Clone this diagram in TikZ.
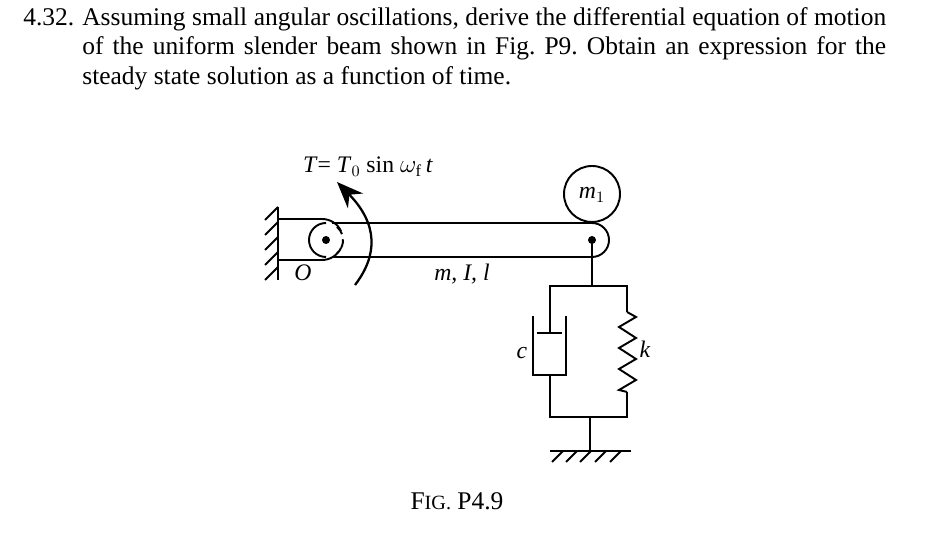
\documentclass[tikz,border=0pt]{standalone}
\usepackage{fontspec}
\setmainfont{Liberation Serif}
\usetikzlibrary{arrows.meta}
\frenchspacing

\tikzset{
  member/.style={line width=1.1pt},
  probtext/.style={anchor=base west,inner sep=0pt,font=\fontsize{14.5}{17}\selectfont},
  partlabel/.style={inner sep=0pt,font=\fontsize{13.5}{16}\selectfont\itshape}
}

\begin{document}
\begin{tikzpicture}[x=0.02cm,y=0.02cm]
\useasboundingbox (0,0) rectangle (933,546);
% Problem statement
\node[probtext] (num) at (23,520) {4.32.};
\node[probtext] (lineone) at (82,520) {\makebox[16.08cm][s]{Assuming small angular oscillations, derive the differential equation of motion}};
\node[probtext] (linetwo) at (82,491) {\makebox[16.08cm][s]{of the uniform slender beam shown in Fig. P9. Obtain an expression for the}};
\node[probtext] (linethree) at (82,461) {steady state solution as a function of time.};
% Wall and bracket
\draw[member] (278,339) -- (278,266);
\foreach \y in {339,324,309,294,279}
  \draw[member] (278,\y) -- ++(-13,-13);
\draw[member] (278,327) -- (322,327) arc[start angle=90,end angle=25,radius=21];
\draw[member] (278,286) -- (322,286) arc[start angle=-90,end angle=-25,radius=21];
% Pin
\draw[member] (326,323) arc[start angle=90,end angle=270,radius=17];
\draw[member,dash pattern=on 5pt off 3pt] (337,319) arc[start angle=50,end angle=-50,radius=17];
\fill (326,306) circle (4);
% Beam
\draw[member] (332,323) -- (592,323) arc[start angle=90,end angle=-90,radius=17] -- (332,289);
\fill (592,306) circle (4);
\node[draw,member,circle,minimum size=1.12cm,inner sep=0pt] (mass) at (592,352) {};
\node[inner sep=0pt,font=\fontsize{13.5}{16}\selectfont] (masslabel) at (592,351) {\textit{m}$_1$};
% Applied torque
\draw[line width=1.3pt,-{Stealth[length=15pt,width=12pt]}] (355,261) .. controls (378,291) and (378,322) .. (337,364);
\node[inner sep=0pt,font=\fontsize{13.5}{16}\selectfont] (torque) at (368,379) {\textit{T}= \textit{T}$_0$ sin $\omega_{\mathrm{f}}$\,\textit{t}};
\node[partlabel] (pivot) at (303,273) {O};
\node[partlabel] (beamlabel) at (462,272) {m, I, l};
% Damper and spring
\draw[member] (592,306) -- (592,260);
\draw[member] (550,213) -- (550,260) -- (627,260) -- (627,234);
\draw[member] (537,213) -- (562,213);
\draw[member] (533,230) -- (533,171) -- (566,171) -- (566,230);
\draw[member] (550,171) -- (550,129) -- (627,129) -- (627,154);
\draw[member] (627,234) -- (636,229) -- (619,219) -- (636,208) -- (619,198) -- (636,187) -- (619,177) -- (636,166) -- (619,156) -- (627,154);
\node[partlabel] (clabel) at (522,193) {c};
\node[partlabel] (klabel) at (645,197) {k};
% Ground
\draw[member] (590,129) -- (590,95);
\draw[member] (550,95) -- (631,95);
\foreach \x in {563,577,591,606,621}
  \draw[member] (\x,95) -- ++(-11,-11);
% Caption
\node[inner sep=0pt,font=\fontsize{14.5}{17}\selectfont] (caption) at (457,45) {F{\fontsize{11.5}{13}\selectfont IG.} P4.9};
\end{tikzpicture}
\end{document}
